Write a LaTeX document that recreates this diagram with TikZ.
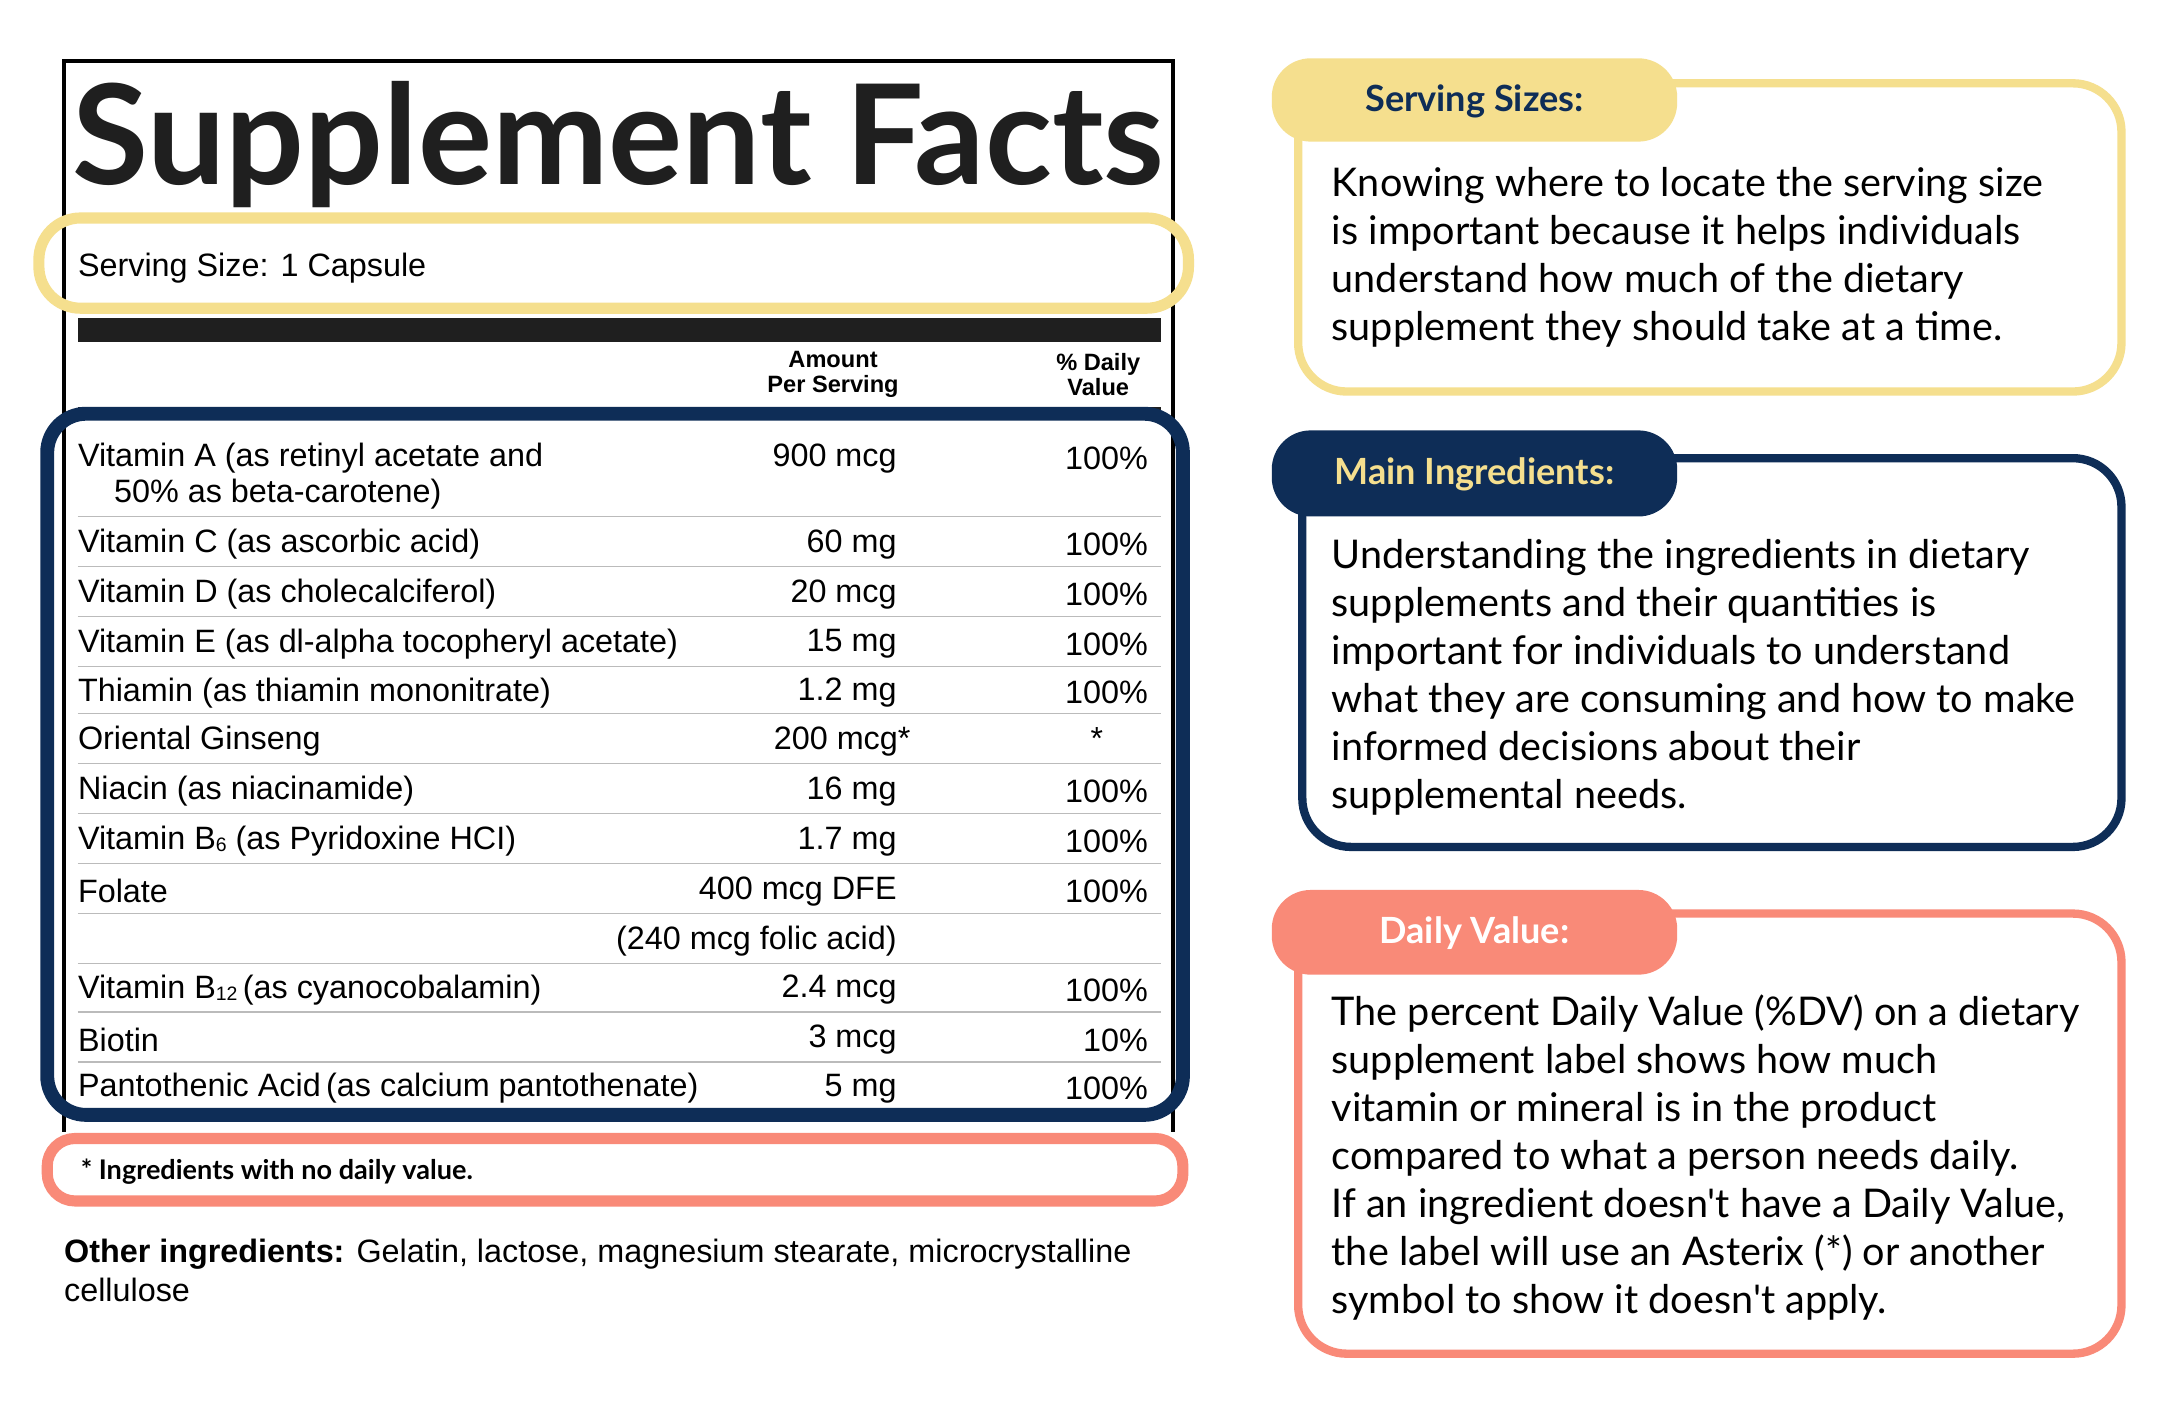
\documentclass[tikz,border=0pt]{standalone}
\usepackage{fontspec}
\setmainfont{Liberation Sans}
\newfontfamily\lato{Lato}
\definecolor{navy}{HTML}{0E2D57}
\definecolor{ylw}{HTML}{F5DF8E}
\definecolor{sal}{HTML}{F98A78}
\definecolor{sep}{HTML}{BBBBBB}
\begin{document}
\begin{tikzpicture}[x=1pt,y=-1pt,
  lbl/.style={anchor=west,inner sep=0pt,font=\fontsize{23.3}{26}\selectfont},
  amt/.style={anchor=east,inner sep=0pt,font=\fontsize{23.3}{26}\selectfont},
  dv/.style={anchor=east,inner sep=0pt,font=\fontsize{23.3}{26}\selectfont},
  body/.style={anchor=north west,inner sep=0pt,align=left,font=\lato\fontsize{28.5}{34.6}\selectfont},
  tabtxt/.style={inner sep=0pt,font=\lato\bfseries\fontsize{26}{30}\selectfont}]
\useasboundingbox[fill=white] (0,0) rectangle (1568,1024);
% label frame
\draw[line width=2.5pt] (46,815) -- (46,44) -- (845,44) -- (845,815);
\node[anchor=base west,inner sep=0pt,font=\lato\bfseries\fontsize{100}{100}\selectfont,text=black!88] (title) at (52,133) {Supplement Facts};
\draw[ylw,line width=8pt,rounded corners=30pt] (28,157) rectangle (856,222);
\node[lbl] (ss) at (56,193) {Serving Size: 1 Capsule};
\fill[black!88] (56,229) rectangle (836,246);
\node[align=center,inner sep=0pt,font=\bfseries\fontsize{17}{18}\selectfont] (hA) at (600,270) {Amount\\Per Serving};
\node[align=center,inner sep=0pt,font=\bfseries\fontsize{17}{18}\selectfont] (hD) at (791,270) {\% Daily\\Value};
\draw[line width=4pt,black!88] (56,295) -- (836,295);
\foreach \y in {372,408,444,480,514,550,586,622,658,694,729,765}
  \draw[sep,line width=1pt] (56,\y) -- (836,\y);
\node[lbl] (r1) at (56,330) {Vitamin A (as retinyl acetate and};
\node[lbl] (r1b) at (82,356) {50\% as beta-carotene)};
\node[amt] at (646,330) {900 mcg}; \node[dv] at (827,330) {100\%};
\node[lbl] (r2) at (56,392) {Vitamin C (as ascorbic acid)};
\node[amt] at (646,392) {60 mg}; \node[dv] at (827,392) {100\%};
\node[lbl] (r3) at (56,428) {Vitamin D (as cholecalciferol)};
\node[amt] at (646,428) {20 mcg}; \node[dv] at (827,428) {100\%};
\node[lbl] (r4) at (56,464) {Vitamin E (as dl-alpha tocopheryl acetate)};
\node[amt] at (646,464) {15 mg}; \node[dv] at (827,464) {100\%};
\node[lbl] (r5) at (56,499) {Thiamin (as thiamin mononitrate)};
\node[amt] at (646,499) {1.2 mg}; \node[dv] at (827,499) {100\%};
\node[lbl] (r6) at (56,534) {Oriental Ginseng};
\node[amt] at (656,534) {200 mcg*}; \node[inner sep=0pt,font=\fontsize{23}{24}\selectfont] at (790,532) {*};
\node[lbl] (r7) at (56,570) {Niacin (as niacinamide)};
\node[amt] at (646,570) {16 mg}; \node[dv] at (827,570) {100\%};
\node[lbl] (r8) at (56,606) {Vitamin B\raisebox{-1.5pt}{\fontsize{14}{14}\selectfont 6} (as Pyridoxine HCI)};
\node[amt] at (646,606) {1.7 mg}; \node[dv] at (827,606) {100\%};
\node[lbl] (r9) at (56,642) {Folate};
\node[amt] at (646,642) {400 mcg DFE}; \node[dv] at (827,642) {100\%};
\node[amt] at (646,678) {(240 mcg folic acid)};
\node[lbl] (r10) at (56,713) {Vitamin B\raisebox{-1.5pt}{\fontsize{14}{14}\selectfont 12}\,(as cyanocobalamin)};
\node[amt] at (646,713) {2.4 mcg}; \node[dv] at (827,713) {100\%};
\node[lbl] (r11) at (56,749) {Biotin};
\node[amt] at (646,749) {3 mcg}; \node[dv] at (827,749) {10\%};
\node[lbl] (r12) at (56,784) {Pantothenic Acid\,(as calcium pantothenate)};
\node[amt] at (646,784) {5 mg}; \node[dv] at (827,784) {100\%};
\draw[navy,line width=10pt,rounded corners=28pt] (34,298) rectangle (852,803);
\draw[sal,line width=8pt,rounded corners=20pt] (34,820) rectangle (852,865);
\node[anchor=west,inner sep=0pt,font=\lato\bfseries\fontsize{19.5}{20}\selectfont] (note) at (58,844) {* Ingredients with no daily value.};
\node[anchor=north west,inner sep=0pt,align=left,font=\fontsize{23.3}{28}\selectfont] (other) at (46,892) {\textbf{Other ingredients:} Gelatin, lactose, magnesium stearate, microcrystalline\\cellulose};
% right panels
\draw[ylw,line width=6pt,rounded corners=35pt] (935,60) rectangle (1528,282);
\fill[ylw,rounded corners=28pt] (916,42) rectangle (1208,102);
\node[tabtxt,text=navy] (t1) at (1062,73) {Serving Sizes:};
\node[body] (b1) at (959,120) {Knowing where to locate the serving size\\is important because it helps individuals\\understand how much of the dietary\\supplement they should take at a time.};
\draw[navy,line width=6pt,rounded corners=35pt] (938,330) rectangle (1528,610);
\fill[navy,rounded corners=28pt] (916,310) rectangle (1208,372);
\node[tabtxt,text=ylw] (t2) at (1062,342) {Main Ingredients:};
\node[body] (b2) at (959,388) {Understanding the ingredients in dietary\\supplements and their quantities is\\important for individuals to understand\\what they are consuming and how to make\\informed decisions about their\\supplemental needs.};
\draw[sal,line width=6pt,rounded corners=35pt] (935,658) rectangle (1528,975);
\fill[sal,rounded corners=28pt] (916,641) rectangle (1208,702);
\node[tabtxt,text=white] (t3) at (1062,672) {Daily Value:};
\node[body] (b3) at (959,716) {The percent Daily Value (\%DV) on a dietary\\supplement label shows how much\\vitamin or mineral is in the product\\compared to what a person needs daily.\\If an ingredient doesn't have a Daily Value,\\the label will use an Asterix (*) or another\\symbol to show it doesn't apply.};
\end{tikzpicture}
\end{document}
